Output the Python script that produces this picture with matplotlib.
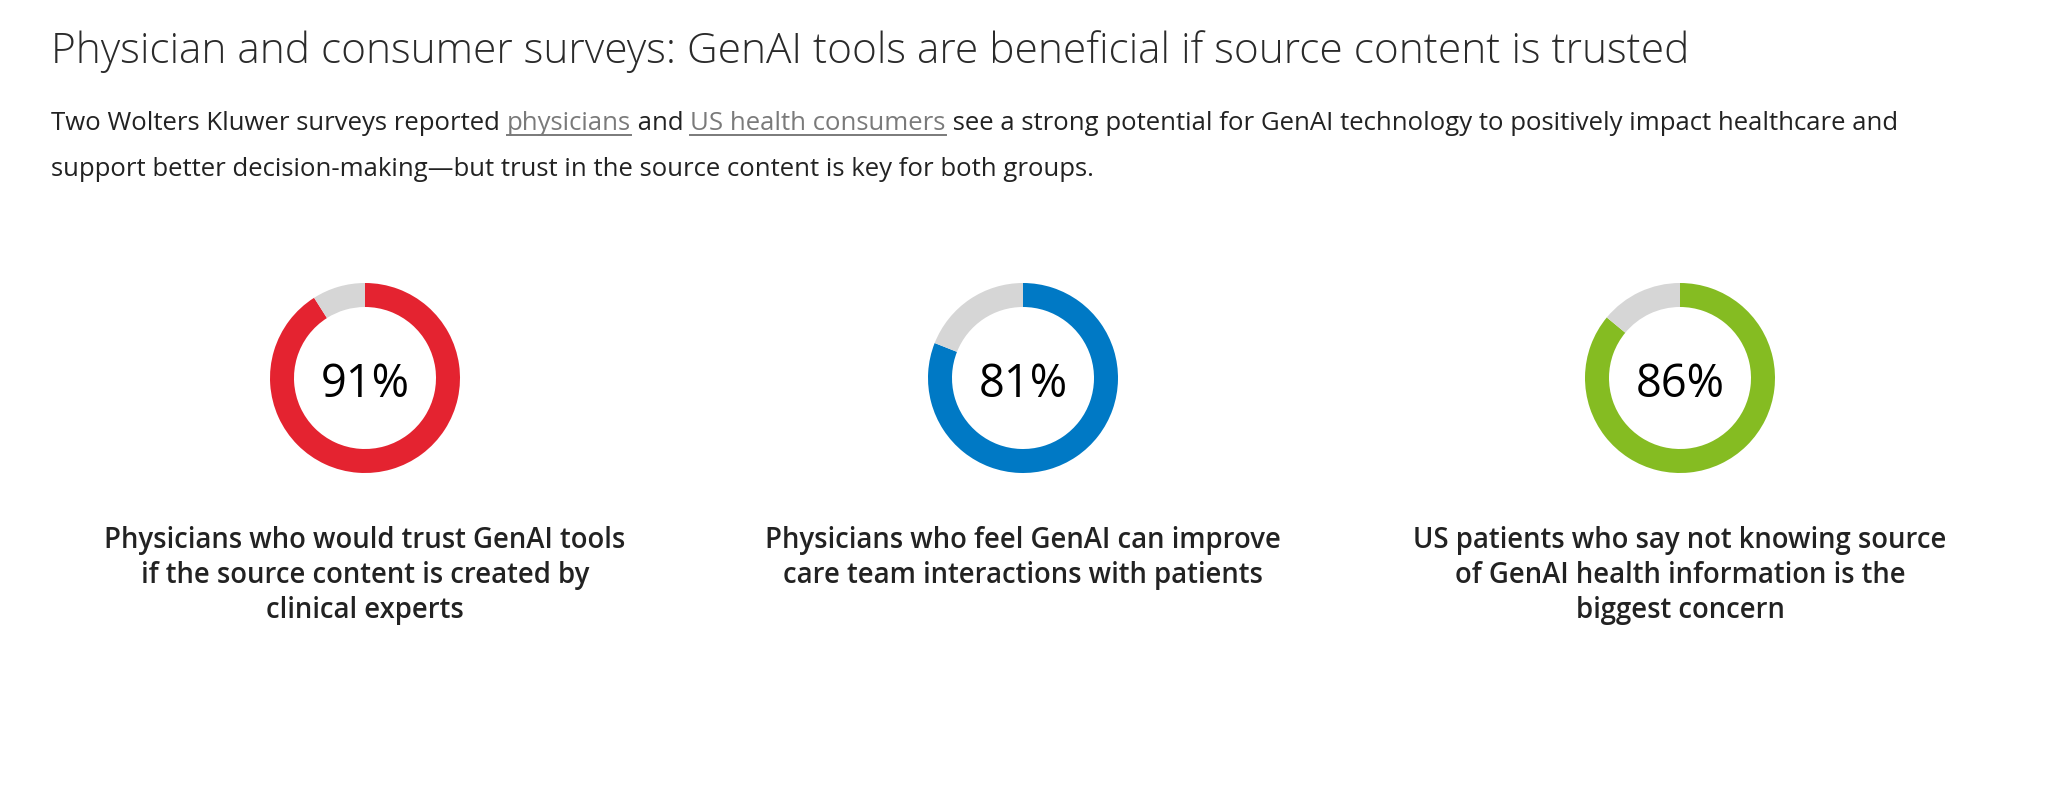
import matplotlib
matplotlib.use("Agg")
import matplotlib.pyplot as plt
from matplotlib.lines import Line2D

W, H = 2048, 789

title = "Physician and consumer surveys: GenAI tools are beneficial if source content is trusted"
# subtitle pieces: (text, is_link)
intro_line1 = [
    ("Two Wolters Kluwer surveys reported ", False),
    ("physicians", True),
    (" and ", False),
    ("US health consumers", True),
    (" see a strong potential for GenAI technology to positively impact healthcare and", False),
]
intro_line2 = [("support better decision-making\u2014but trust in the source content is key for both groups.", False)]

values = [91, 81, 86]
colors = ["#E42330", "#0079C5", "#85BC22"]
labels = [
    "Physicians who would trust GenAI tools\nif the source content is created by\nclinical experts",
    "Physicians who feel GenAI can improve\ncare team interactions with patients",
    "US patients who say not knowing source\nof GenAI health information is the\nbiggest concern",
]
rest_color = "#D6D6D6"
text_color = "#222222"
link_color = "#7A7A7A"

fig = plt.figure(figsize=(W / 100, H / 100), dpi=100)
fig.patch.set_facecolor("white")
renderer = fig.canvas.get_renderer()


def fy(y):
    return 1 - y / H


def fx(x):
    return x / W


def advance(txt, size):
    # width of txt including its leading/trailing spaces
    a = fig.text(0, 0, "x" + txt + "x", fontsize=size, family="Open Sans")
    b = fig.text(0, 0, "xx", fontsize=size, family="Open Sans")
    w = a.get_window_extent(renderer).width - b.get_window_extent(renderer).width
    a.remove()
    b.remove()
    return w


fig.text(fx(51), fy(63), title, fontsize=30.5, family="Open Sans", weight="light",
         color="#2a2a2a", va="baseline", ha="left")


def draw_rich_line(pieces, x0, baseline, size):
    x = x0
    for txt, link in pieces:
        t = fig.text(fx(x), fy(baseline), txt, fontsize=size, family="Open Sans",
                     color=link_color if link else text_color, va="baseline", ha="left")
        if link:
            ext = t.get_window_extent(renderer)
            fig.add_artist(Line2D([fx(ext.x0), fx(ext.x1)], [fy(baseline + 5)] * 2,
                                  color=link_color, lw=1.4, transform=fig.transFigure))
        x += advance(txt, size)


draw_rich_line(intro_line1, 51, 130, 18.5)
draw_rich_line(intro_line2, 51, 176, 18.5)

centers = [365, 1023, 1680]
cy, R, ring = 378, 95, 24
for cx, v, c, lab in zip(centers, values, colors, labels):
    ax = fig.add_axes([fx(cx - R), fy(cy + R), 2 * R / W, 2 * R / H])
    ax.pie([v, 100 - v], colors=[c, rest_color], startangle=90, counterclock=False,
           radius=1, wedgeprops=dict(width=ring / R, linewidth=0))
    ax.set_xlim(-1, 1)
    ax.set_ylim(-1, 1)
    ax.axis("off")
    fig.text(fx(cx), fy(397), f"{v}%", fontsize=32.5, family="Open Sans",
             color="black", ha="center", va="baseline")
    for i, line in enumerate(lab.split("\n")):
        fig.text(fx(cx), fy(548 + 35 * i), line, fontsize=19.8, family="Open Sans",
                 weight="semibold", color=text_color, ha="center", va="baseline")

fig.savefig("out.png", dpi=100, facecolor="white")
